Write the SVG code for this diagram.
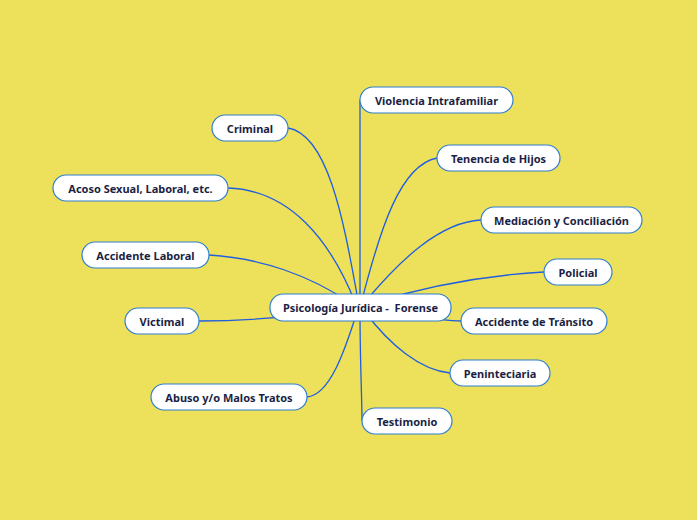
<svg xmlns="http://www.w3.org/2000/svg" width="697" height="520" viewBox="0 0 697 520">
<style>
.n rect{fill:#fff;stroke:#2f7fd0;stroke-width:1.2}
.n text{font-family:"Noto Sans","Open Sans",sans-serif;font-size:11px;font-weight:bold;fill:#1c1f45;text-anchor:middle;dominant-baseline:central;white-space:pre}
#links path{fill:none;stroke:#1f5ee0;stroke-width:1.3}
</style>
<rect width="697" height="520" fill="#ede05a"/>
<g id="links">
<path d="M360,300 C360,220 360,160 360,100"/>
<path d="M358,300 C345,230 330,135 288,128"/>
<path d="M362,300 C380,230 400,165 437,158"/>
<path d="M355,302 C330,240 290,190 228,188"/>
<path d="M365,302 C400,260 440,222 481,220"/>
<path d="M352,304 C310,275 260,258 209,255"/>
<path d="M368,304 C430,285 490,275 544,272"/>
<path d="M350,308 C290,318 240,321 199,321"/>
<path d="M372,310 C410,315 440,321 461,321"/>
<path d="M365,312 C390,345 420,370 450,373"/>
<path d="M357,312 C345,350 330,395 307,397"/>
<path d="M360,312 C360,360 362,400 362,421"/>
</g>
<g id="center" class="n"><rect x="270" y="294" width="181" height="27" rx="13"/><text x="360.5" y="307.5" xml:space="preserve">Psicología Jurídica -  Forense</text></g>
<g id="n1" class="n"><rect x="360" y="87" width="153" height="26" rx="13"/><text x="436.5" y="100">Violencia Intrafamiliar</text></g>
<g id="n2" class="n"><rect x="212" y="115" width="76" height="26" rx="13"/><text x="250" y="128">Criminal</text></g>
<g id="n3" class="n"><rect x="437" y="145" width="123" height="26" rx="13"/><text x="498.5" y="158">Tenencia de Hijos</text></g>
<g id="n4" class="n"><rect x="53" y="175" width="175" height="26" rx="13"/><text x="140.5" y="188">Acoso Sexual, Laboral, etc.</text></g>
<g id="n5" class="n"><rect x="481" y="207" width="161" height="26" rx="13"/><text x="561.5" y="220">Mediación y Conciliación</text></g>
<g id="n6" class="n"><rect x="82" y="242" width="127" height="26" rx="13"/><text x="145.5" y="255">Accidente Laboral</text></g>
<g id="n7" class="n"><rect x="544" y="259" width="68" height="26" rx="13"/><text x="578" y="272">Policial</text></g>
<g id="n8" class="n"><rect x="125" y="308" width="74" height="26" rx="13"/><text x="162" y="321">Victimal</text></g>
<g id="n9" class="n"><rect x="461" y="308" width="146" height="26" rx="13"/><text x="534" y="321">Accidente de Tránsito</text></g>
<g id="n10" class="n"><rect x="450" y="360" width="100" height="26" rx="13"/><text x="500" y="373">Peninteciaria</text></g>
<g id="n11" class="n"><rect x="151" y="384" width="156" height="26" rx="13"/><text x="229" y="397">Abuso y/o Malos Tratos</text></g>
<g id="n12" class="n"><rect x="362" y="408" width="90" height="26" rx="13"/><text x="407" y="421">Testimonio</text></g>
</svg>
